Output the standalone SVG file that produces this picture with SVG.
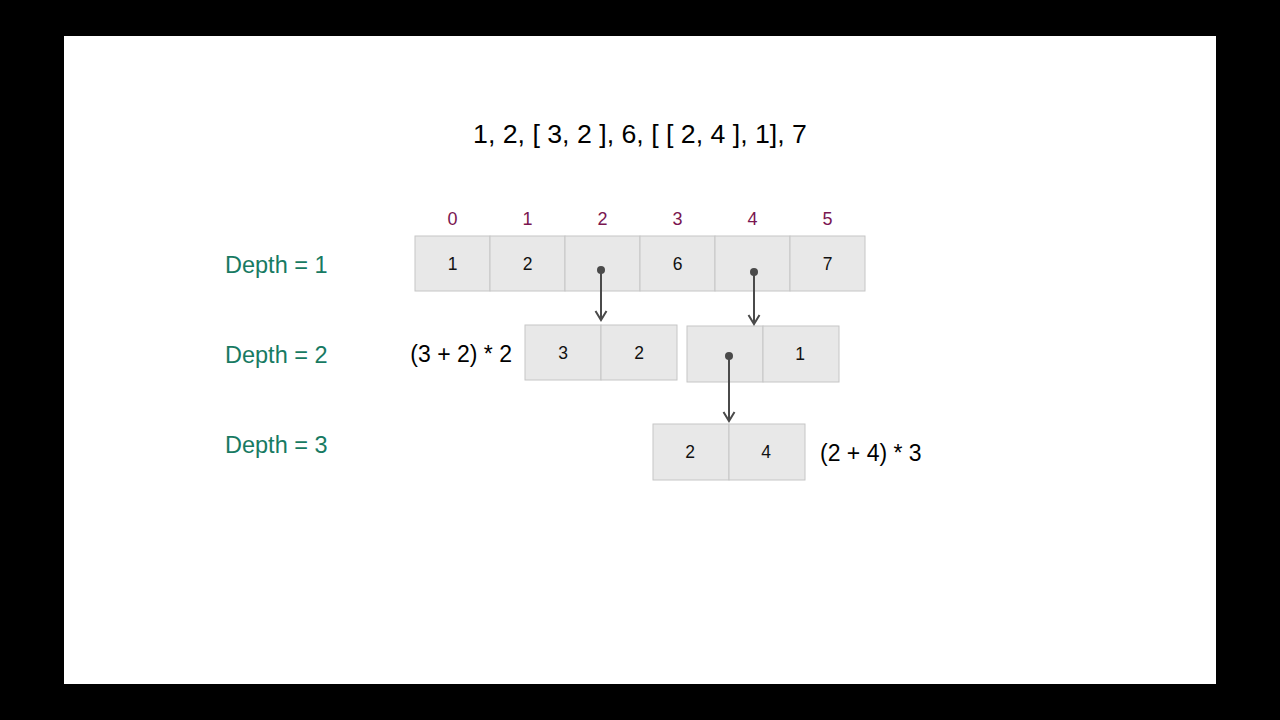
<svg xmlns="http://www.w3.org/2000/svg" width="1280" height="720" viewBox="0 0 1280 720">
<defs>
<style>
.cell{fill:#e8e8e8;stroke:#c6c6c6;stroke-width:1}
.num{font-family:"Liberation Sans",Arial,sans-serif;font-size:17.5px;fill:#111;text-anchor:middle}
.idx{font-family:"Liberation Sans",Arial,sans-serif;font-size:18px;fill:#7a1650;text-anchor:middle}
.depth{font-family:"Liberation Sans",Arial,sans-serif;font-size:23.5px;fill:#177a62}
.expr{font-family:"Liberation Sans",Arial,sans-serif;font-size:23px;fill:#000}
.conn{stroke:#4a4a4a;stroke-width:2;fill:none}
.dot{fill:#4a4a4a}
</style>
<marker id="arr" viewBox="0 0 14 14" refX="12" refY="7" markerWidth="14" markerHeight="14" markerUnits="userSpaceOnUse" orient="auto">
<path d="M3,1.5 L12,7 L3,12.5" fill="none" stroke="#4a4a4a" stroke-width="2"/>
</marker>
</defs>
<rect x="0" y="0" width="1280" height="720" fill="#000"/>
<rect x="64" y="36" width="1152" height="648" fill="#fff"/>
<text x="640" y="143" font-family="'Liberation Sans',Arial,sans-serif" font-size="26.7" text-anchor="middle" fill="#000">1, 2, [ 3, 2 ], 6, [ [ 2, 4 ], 1], 7</text>
<g id="labels">
<text class="depth" x="225" y="273">Depth = 1</text>
<text class="depth" x="225" y="363">Depth = 2</text>
<text class="depth" x="225" y="453">Depth = 3</text>
<text class="expr" x="512" y="362" text-anchor="end">(3 + 2) * 2</text>
<text class="expr" x="820" y="461">(2 + 4) * 3</text>
</g>
<g id="indices">
<text class="idx" x="452.5" y="225">0</text>
<text class="idx" x="527.5" y="225">1</text>
<text class="idx" x="602.5" y="225">2</text>
<text class="idx" x="677.5" y="225">3</text>
<text class="idx" x="752.5" y="225">4</text>
<text class="idx" x="827.5" y="225">5</text>
</g>
<g id="array-depth1">
<rect class="cell" x="415" y="236" width="75" height="55"/>
<rect class="cell" x="490" y="236" width="75" height="55"/>
<rect class="cell" x="565" y="236" width="75" height="55"/>
<rect class="cell" x="640" y="236" width="75" height="55"/>
<rect class="cell" x="715" y="236" width="75" height="55"/>
<rect class="cell" x="790" y="236" width="75" height="55"/>
<text class="num" x="452.5" y="270">1</text>
<text class="num" x="527.5" y="270">2</text>
<text class="num" x="677.5" y="270">6</text>
<text class="num" x="827.5" y="270">7</text>
</g>
<g id="array-32">
<rect class="cell" x="525" y="325" width="76" height="55"/>
<rect class="cell" x="601" y="325" width="76" height="55"/>
<text class="num" x="563" y="359">3</text>
<text class="num" x="639" y="359">2</text>
</g>
<g id="array-list1">
<rect class="cell" x="687" y="326" width="76" height="56"/>
<rect class="cell" x="763" y="326" width="76" height="56"/>
<text class="num" x="800" y="360">1</text>
</g>
<g id="array-24">
<rect class="cell" x="653" y="424" width="76" height="56"/>
<rect class="cell" x="729" y="424" width="76" height="56"/>
<text class="num" x="690" y="458">2</text>
<text class="num" x="766" y="458">4</text>
</g>
<g id="connectors">
<circle class="dot" cx="601" cy="270" r="4"/>
<line class="conn" x1="601" y1="270" x2="601" y2="320" marker-end="url(#arr)"/>
<circle class="dot" cx="754" cy="272" r="4"/>
<line class="conn" x1="754" y1="272" x2="754" y2="324" marker-end="url(#arr)"/>
<circle class="dot" cx="729" cy="356" r="4"/>
<line class="conn" x1="729" y1="356" x2="729" y2="421" marker-end="url(#arr)"/>
</g>
</svg>
